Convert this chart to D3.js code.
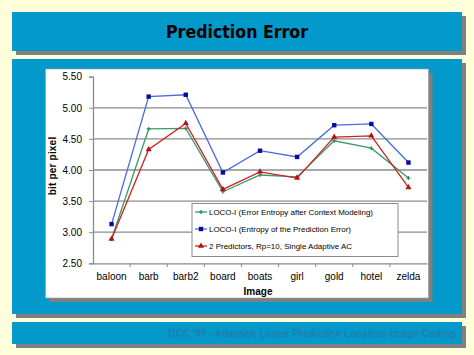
<!DOCTYPE html>
<html>
<head>
<meta charset="utf-8">
<script src="https://cdn.jsdelivr.net/npm/d3@7"></script>
<style>
  html, body { margin: 0; padding: 0; background: #FFFEDB; }
  svg { display: block; }
</style>
</head>
<body>
<svg id="chart" width="474" height="355"></svg>
<script>
// Test images and bit rates (bits per pixel)
const images = ["baloon", "barb", "barb2", "board", "boats", "girl", "gold", "hotel", "zelda"];
const locoContext = [2.89, 4.66, 4.67, 3.65, 3.92, 3.89, 4.47, 4.35, 3.87];
const locoEntropy = [3.13, 5.18, 5.21, 3.96, 4.31, 4.21, 4.72, 4.74, 4.12];
const twoPredictors = [2.89, 4.33, 4.75, 3.69, 3.97, 3.87, 4.53, 4.55, 3.72];
const seriesNames = [
  "LOCO-I (Error Entropy after Context Modeling)",
  "LOCO-I (Entropy of the Prediction Error)",
  "2 Predictors, Rp=10, Single Adaptive AC"
];
const yTicks = [2.5, 3.0, 3.5, 4.0, 4.5, 5.0, 5.5];
const titleText = "Prediction Error";
const footerText = "DCC '99 - Adaptive Linear Prediction Lossless Image Coding";

const svg = d3.select("#chart");
const blue = "#0399CB", shadow = "#808080";

// slide panels with drop shadows
function panel(x, y, w, h) {
  svg.append("rect").attr("x", x + 4).attr("y", y + 4).attr("width", w).attr("height", h).attr("fill", shadow);
  svg.append("rect").attr("x", x).attr("y", y).attr("width", w).attr("height", h).attr("fill", blue);
}
panel(12, 12, 450, 39);
panel(12, 59, 450, 255);
panel(12, 322, 450, 22);

svg.append("text").attr("x", 237).attr("y", 38).attr("text-anchor", "middle")
  .attr("font-family", "DejaVu Sans, sans-serif").attr("font-weight", "bold").attr("font-size", 17)
  .attr("textLength", 142).attr("lengthAdjust", "spacingAndGlyphs")
  .attr("fill", "#000").text(titleText);

svg.append("text").attr("x", 456).attr("y", 337).attr("text-anchor", "end")
  .attr("font-family", "Liberation Sans, Arial, sans-serif").attr("font-weight", "bold").attr("font-size", 10)
  .attr("fill", "#1F7FAF").text(footerText);

// chart area
svg.append("rect").attr("x", 49.5).attr("y", 73).attr("width", 383).attr("height", 229).attr("fill", shadow);
svg.append("rect").attr("x", 45.5).attr("y", 69).attr("width", 383).attr("height", 229)
  .attr("fill", "#fff").attr("stroke", "#9a9a9a").attr("stroke-width", 0.6);

const x = d3.scaleBand().domain(images).range([93, 427]).padding(0);
const y = d3.scaleLinear().domain([2.5, 5.5]).range([263.3, 76.7]);

// gridlines
svg.append("g").selectAll("line").data(yTicks.filter(v => v > 2.5 && v < 5.5)).join("line")
  .attr("x1", 93).attr("x2", 427).attr("y1", d => y(d)).attr("y2", d => y(d))
  .attr("stroke", "#8c8c8c").attr("stroke-width", 1.3);

// axes
const yAxis = d3.axisLeft(y).tickValues(yTicks).tickFormat(d3.format(".2f")).tickSize(4).tickPadding(7);
const gy = svg.append("g").attr("transform", "translate(93,0)").call(yAxis);
gy.select(".domain").attr("stroke", "#8c8c8c").attr("stroke-width", 1.3);
gy.selectAll(".tick line").attr("stroke", "#8c8c8c");
gy.selectAll("text").attr("font-family", "Liberation Sans, Arial, sans-serif").attr("font-size", 10).attr("fill", "#000");

const gx = svg.append("g").attr("transform", "translate(0,263.3)").call(d3.axisBottom(x).tickSize(0).tickPadding(10));
gx.select(".domain").attr("stroke", "#8c8c8c").attr("stroke-width", 1.3);
gx.selectAll("text").attr("font-family", "Liberation Sans, Arial, sans-serif").attr("font-size", 10).attr("fill", "#000");
// tick marks between categories
svg.append("g").selectAll("line").data(images.slice(1)).join("line")
  .attr("x1", d => x(d)).attr("x2", d => x(d)).attr("y1", 263.3).attr("y2", 267)
  .attr("stroke", "#8c8c8c");

svg.append("text").attr("x", 258).attr("y", 295).attr("text-anchor", "middle")
  .attr("font-family", "Liberation Sans, Arial, sans-serif").attr("font-weight", "bold").attr("font-size", 10)
  .text("Image");
svg.append("text").attr("transform", "translate(56,166) rotate(-90)").attr("text-anchor", "middle")
  .attr("font-family", "Liberation Sans, Arial, sans-serif").attr("font-weight", "bold").attr("font-size", 10)
  .attr("letter-spacing", 0.2).text("bit per pixel");

// series
const series = [
  { name: seriesNames[0], values: locoContext, line: "#3A9A6A", mark: "#2E8A5A", shape: "plus" },
  { name: seriesNames[1], values: locoEntropy, line: "#4A6AE0", mark: "#0A0AA0", shape: "square" },
  { name: seriesNames[2], values: twoPredictors, line: "#CC2222", mark: "#B01515", shape: "triangle" }
];

const lineGen = d3.line().x((d, i) => x(images[i]) + x.bandwidth() / 2).y(d => y(d));

function drawMarker(g, shape, color, cx, cy) {
  if (shape === "square") {
    g.append("rect").attr("x", cx - 2.2).attr("y", cy - 2.2).attr("width", 4.4).attr("height", 4.4).attr("fill", color);
  } else if (shape === "triangle") {
    g.append("path").attr("d", d3.symbol(d3.symbolTriangle, 16)()).attr("transform", `translate(${cx},${cy})`).attr("fill", color);
  } else {
    g.append("path").attr("d", `M${cx - 2},${cy}H${cx + 2}M${cx},${cy - 2}V${cy + 2}`).attr("stroke", color).attr("stroke-width", 1.2);
  }
}

series.forEach(s => {
  const g = svg.append("g");
  g.append("path").datum(s.values).attr("d", lineGen).attr("fill", "none")
    .attr("stroke", s.line).attr("stroke-width", 1.3);
  s.values.forEach((v, i) => drawMarker(g, s.shape, s.mark, x(images[i]) + x.bandwidth() / 2, y(v)));
});

// legend
const lg = svg.append("g");
lg.append("rect").attr("x", 192).attr("y", 203.5).attr("width", 206).attr("height", 53)
  .attr("fill", "#fff").attr("stroke", "#8c8c8c").attr("stroke-width", 1);
const legendLens = [164, 142, 143];
series.forEach((s, i) => {
  const ly = 212 + i * 17;
  lg.append("line").attr("x1", 195).attr("x2", 207).attr("y1", ly).attr("y2", ly).attr("stroke", s.line).attr("stroke-width", 1.3);
  drawMarker(lg, s.shape, s.mark, 201, ly);
  lg.append("text").attr("x", 209).attr("y", ly + 2.8)
    .attr("font-family", "Liberation Sans, Arial, sans-serif").attr("font-size", 7.8)
    .attr("textLength", legendLens[i]).attr("lengthAdjust", "spacingAndGlyphs")
    .attr("fill", "#000").text(s.name);
});
</script>
</body>
</html>
